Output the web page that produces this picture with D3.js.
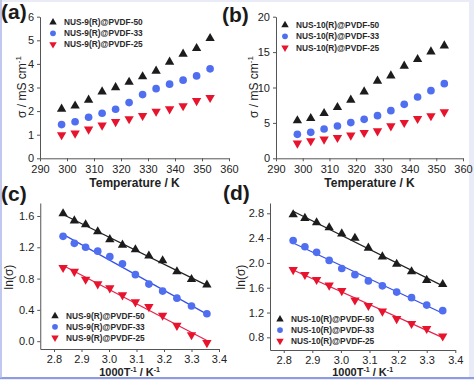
<!DOCTYPE html>
<html><head><meta charset="utf-8">
<script src="https://cdn.jsdelivr.net/npm/d3@7"></script>
<style>
html,body{margin:0;padding:0;background:#e9ebf7;}
svg{display:block;font-family:"Liberation Sans",Arial,sans-serif;}
</style></head>
<body>
<svg id="chart" width="474" height="380"></svg>
<script>
// ---- data ----
const temps = [298,303,308,313,318,323,328,333,338,343,348,353];
const invT  = [3.356,3.300,3.247,3.195,3.145,3.096,3.049,3.003,2.959,2.915,2.874,2.833];

const a50 = [2.09,2.22,2.47,2.82,3.00,3.23,3.46,3.70,4.08,4.42,4.66,5.08];
const a33 = [1.43,1.55,1.74,1.91,2.08,2.36,2.70,2.95,3.14,3.31,3.49,3.79];
const a25 = [0.99,1.06,1.23,1.40,1.55,1.67,1.81,1.99,2.09,2.22,2.44,2.57];

const b50 = [5.32,5.65,6.35,7.20,8.24,9.41,10.92,11.67,13.04,13.98,15.06,15.90];
const b33 = [3.39,3.67,4.14,4.56,5.04,5.50,6.02,6.73,7.62,8.66,9.55,10.54];
const b25 = [2.12,2.45,2.68,2.92,3.25,3.62,3.86,4.56,5.04,5.60,5.98,6.54];

const c50 = [0.72,0.79,0.89,1.03,1.09,1.17,1.23,1.30,1.40,1.49,1.54,1.63];
const c33 = [0.35,0.45,0.55,0.64,0.73,0.85,0.99,1.08,1.15,1.20,1.25,1.34];
const c25 = [-0.02,0.08,0.20,0.33,0.44,0.50,0.59,0.68,0.73,0.79,0.89,0.94];

const d50 = [1.655,1.72,1.86,1.98,2.10,2.24,2.40,2.47,2.57,2.65,2.72,2.78];
const d33 = [1.23,1.32,1.44,1.53,1.63,1.71,1.81,1.91,2.04,2.17,2.26,2.36];
const d25 = [0.82,0.94,1.02,1.10,1.22,1.31,1.40,1.55,1.64,1.73,1.81,1.89];

const names9  = ["NUS-9(R)@PVDF-50","NUS-9(R)@PVDF-33","NUS-9(R)@PVDF-25"];
const names10 = ["NUS-10(R)@PVDF-50","NUS-10(R)@PVDF-33","NUS-10(R)@PVDF-25"];

const tempTicks = [290,300,310,320,330,340,350,360];
const invTicks  = [2.8,2.9,3.0,3.1,3.2,3.3,3.4];
const aTicks = [0,1,2,3,4,5,6];
const bTicks = [0,5,10,15,20];
const cTicks = [0.0,0.4,0.8,1.2,1.6];
const dTicks = [0.8,1.2,1.6,2.0,2.4,2.8];

// ---- styles ----
const markerColor = ["#1c1c1c","#4f6ef0","#e8132d"];
const lineColor   = ["#222222","#3552e6","#e6224c"];
const shapes = [
  {type:d3.symbolTriangle, rot:0},
  {type:d3.symbolCircle, rot:0},
  {type:d3.symbolTriangle, rot:180}
];

const svg = d3.select("#chart");
// frame
svg.append("rect").attr("x",0).attr("y",0).attr("width",474).attr("height",380).attr("fill","#e9ebf7");
svg.append("rect").attr("x",2).attr("y",2).attr("width",467).attr("height",375).attr("fill","#ffffff");
svg.append("line").attr("x1",0).attr("x2",474).attr("y1",378).attr("y2",378).attr("stroke","#8c9be2").attr("stroke-width",2);
svg.append("line").attr("x1",1).attr("x2",1).attr("y1",0).attr("y2",378).attr("stroke","#b3bdee").attr("stroke-width",1.5);

function fit(xs, ys){
  const n = xs.length, mx = d3.mean(xs), my = d3.mean(ys);
  let sxy=0, sxx=0;
  for(let i=0;i<n;i++){ sxy += (xs[i]-mx)*(ys[i]-my); sxx += (xs[i]-mx)**2; }
  const k = sxy/sxx; return {k, b: my - k*mx};
}

function panel(cfg){
  const x = d3.scaleLinear().domain(cfg.xDom).range([cfg.x0, cfg.x1]);
  const y = d3.scaleLinear().domain(cfg.yDom).range([cfg.y1, cfg.y0]);
  const g = svg.append("g");

  const xa = g.append("g").attr("transform",`translate(0,${cfg.y1})`)
    .call(d3.axisBottom(x).tickValues(cfg.xTicks).tickSize(3).tickSizeOuter(0).tickFormat(cfg.xFmt));
  const ya = g.append("g").attr("transform",`translate(${cfg.x0},0)`)
    .call(d3.axisLeft(y).tickValues(cfg.yTicks).tickSize(3).tickSizeOuter(0).tickFormat(cfg.yFmt));
  [xa,ya].forEach(a=>{
    a.select(".domain").attr("stroke","#555").attr("stroke-width",1);
    a.selectAll(".tick line").attr("stroke","#555");
    a.selectAll(".tick text").attr("fill","#222").style("font-size","11px").style("font-family","'Liberation Sans',Arial,sans-serif");
  });
  xa.selectAll(".tick text").attr("dy","0.75em");

  // fit lines
  if(cfg.fitLines){
    cfg.series.forEach((s,i)=>{
      const f = fit(cfg.xs, s);
      const ex = d3.extent(cfg.xs);
      g.append("line")
        .attr("x1",x(ex[0])).attr("y1",y(f.k*ex[0]+f.b))
        .attr("x2",x(ex[1])).attr("y2",y(f.k*ex[1]+f.b))
        .attr("stroke",lineColor[i]).attr("stroke-width",1.2);
    });
  }
  // points
  cfg.series.forEach((s,i)=>{
    const sh = shapes[i];
    const sym = d3.symbol().type(sh.type).size(i===1?46:38);
    g.selectAll(null).data(s).enter().append("path")
      .attr("d",sym)
      .attr("transform",(v,j)=>`translate(${x(cfg.xs[j])},${y(v)}) rotate(${sh.rot})`)
      .attr("fill",markerColor[i]);
  });
  // legend
  cfg.names.forEach((nm,i)=>{
    const sh = shapes[i];
    const ly = cfg.legY + i*cfg.legDy;
    g.append("path").attr("d",d3.symbol().type(sh.type).size(i===1?26:24)())
      .attr("transform",`translate(${cfg.legX},${ly}) rotate(${sh.rot})`)
      .attr("fill",markerColor[i]);
    g.append("text").attr("x",cfg.legX+11).attr("y",ly+3)
      .attr("fill","#2a2a2a").style("font-size","8.3px").style("font-weight","bold").text(nm);
  });
  // axis titles
  g.append("text").attr("x",(cfg.x0+cfg.x1)/2).attr("y",cfg.xTitleY)
    .attr("text-anchor","middle").attr("fill","#222").style("font-size",cfg.xTitleSize).style("font-weight","bold")
    .html(cfg.xTitle);
  g.append("text").attr("transform",`translate(${cfg.yTitleX},${cfg.yTitleYc}) rotate(-90)`)
    .attr("text-anchor","middle").attr("fill","#222").style("font-size","12px")
    .html(cfg.yTitle);
  // panel letter
  g.append("text").attr("x",cfg.lblX).attr("y",cfg.lblY).attr("fill","#1a1a1a")
    .style("font-size","21px").style("font-weight","bold").text(cfg.label);
}

const sigTitle = 'σ / mS cm<tspan dy="-5" style="font-size:8px">-1</tspan>';
const invTitle = '1000T<tspan dy="-4" style="font-size:7px">-1</tspan><tspan dy="4"> / K</tspan><tspan dy="-4" style="font-size:7px">-1</tspan>';

panel({x0:40,x1:229,y0:16.7,y1:158.3,xDom:[290,360],yDom:[0,6],xs:temps,
  series:[a50,a33,a25],names:names9,xTicks:tempTicks,yTicks:aTicks,
  xFmt:d3.format("d"),yFmt:d3.format("d"),fitLines:false,
  legX:53,legY:22.3,legDy:11,xTitle:"Temperature / K",xTitleY:187,xTitleSize:"12px",
  yTitle:sigTitle,yTitleX:26,yTitleYc:87,label:"(a)",lblX:1,lblY:19});

panel({x0:276,x1:463,y0:16.7,y1:158.3,xDom:[290,360],yDom:[0,20],xs:temps,
  series:[b50,b33,b25],names:names10,xTicks:tempTicks,yTicks:bTicks,
  xFmt:d3.format("d"),yFmt:d3.format("d"),fitLines:false,
  legX:285,legY:25,legDy:11.3,xTitle:"Temperature / K",xTitleY:187,xTitleSize:"12px",
  yTitle:sigTitle,yTitleX:258,yTitleYc:87,label:"(b)",lblX:222,lblY:22});

panel({x0:40.25,x1:219,y0:203,y1:349,xDom:[2.75,3.4],yDom:[-0.1,1.766],xs:invT,
  series:[c50,c33,c25],names:names9,xTicks:invTicks,yTicks:cTicks,
  xFmt:d3.format(".1f"),yFmt:d3.format(".1f"),fitLines:true,
  legX:55,legY:316,legDy:10.8,xTitle:invTitle,xTitleY:375.5,xTitleSize:"11px",
  yTitle:"ln(σ)",yTitleX:13,yTitleYc:277,label:"(c)",lblX:1,lblY:201});

panel({x0:270,x1:455.3,y0:203,y1:350,xDom:[2.752,3.4],yDom:[0.596,2.966],xs:invT,
  series:[d50,d33,d25],names:names10,xTicks:invTicks,yTicks:dTicks,
  xFmt:d3.format(".1f"),yFmt:d3.format(".1f"),fitLines:true,
  legX:280,legY:319.3,legDy:10.8,xTitle:invTitle,xTitleY:375.5,xTitleSize:"11px",
  yTitle:"ln(σ)",yTitleX:245,yTitleYc:277,label:"(d)",lblX:223,lblY:200});
</script>
</body></html>
